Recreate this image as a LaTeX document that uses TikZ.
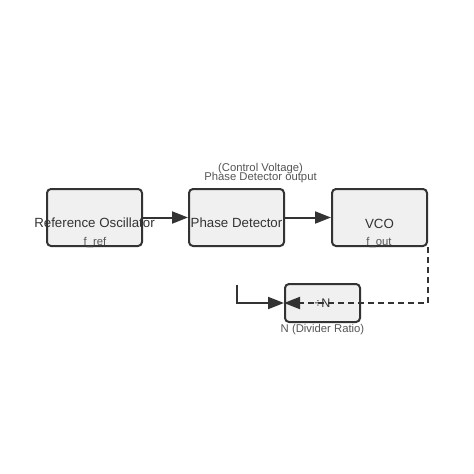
\documentclass[tikz,border=0pt]{standalone}
\usepackage{fontspec}
\setmainfont{Liberation Sans}
\usetikzlibrary{arrows.meta}
\definecolor{boxfill}{HTML}{F0F0F0}
\definecolor{boxline}{HTML}{333333}
\definecolor{lblgray}{HTML}{555555}
\tikzset{
  block/.style={draw=boxline, fill=boxfill, line width=2pt, rounded corners=4pt,
    minimum width=95pt, minimum height=57pt, inner sep=0pt},
  maintext/.style={text=boxline, font=\fontsize{13.3}{14}\selectfont, anchor=base, inner sep=0pt},
  subtext/.style={text=lblgray, font=\fontsize{11.3}{12}\selectfont, anchor=base, inner sep=0pt},
  link/.style={draw=boxline, line width=2pt, -{Triangle[length=16pt,width=12pt]}},
}
\begin{document}
\begin{tikzpicture}[x=1pt,y=-1pt]
\useasboundingbox (0,0) rectangle (474,474);

% blocks
\node[block] (ref) at (94.5,217.5) {};
\node[block] (pd) at (236.5,217.5) {};
\node[block] (vco) at (379.5,217.5) {};
\node[block, minimum width=75pt, minimum height=38pt] (div) at (322.5,303) {};

% texts
\node[maintext] (reftxt) at (94.5,227.5) {Reference Oscillator};
\node[maintext] (pdtxt) at (236.5,227.5) {Phase Detector};
\node[maintext] (vcotxt) at (379.5,228) {VCO};
\node[subtext] (fref) at (95,245.5) {f\_ref};
\node[subtext] (fout) at (379,245.5) {f\_out};
\node[subtext] (cv) at (260.5,171) {(Control Voltage)};
\node[subtext] (pdout) at (260.5,180) {Phase Detector output};
\node[subtext] (ratio) at (322.5,332) {N (Divider Ratio)};

% connectors
\draw[link] (ref.east) -- (pd.west);
\draw[link] (pd.east) -- (vco.west);
\coordinate (fb) at (237,284.5);
\draw[link] (fb) |- (div.west);
\draw[link, dash pattern=on 6pt off 4pt] (vco.south east) |- (div.west);
\node[maintext, font=\fontsize{12.5}{13}\selectfont] (divtxt) at (322.5,307.5) {÷N};
\end{tikzpicture}
\end{document}
